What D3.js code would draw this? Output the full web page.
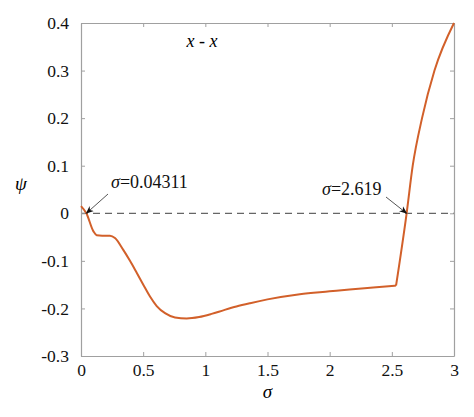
<!DOCTYPE html>
<html><head><meta charset="utf-8">
<script src="https://cdn.jsdelivr.net/npm/d3@7"></script>
<style>body{margin:0;background:#fff}svg{display:block}
text{font-family:"Liberation Serif","Tinos","DejaVu Serif",serif !important}</style>
</head><body>
<script>
const sigma = [0,0.043,0.1,0.126,0.17,0.233,0.273,0.34,0.394,0.448,0.501,0.555,0.609,0.676,0.756,0.85,0.95,1.05,1.15,1.25,1.36,1.5,1.76,2.0,2.16,2.35,2.534,2.619,2.668,2.743,2.843,3.0];
const psi   = [0.015,0,-0.038,-0.046,-0.047,-0.047,-0.052,-0.077,-0.1,-0.125,-0.15,-0.175,-0.195,-0.21,-0.219,-0.221,-0.218,-0.2115,-0.2035,-0.196,-0.189,-0.181,-0.170,-0.164,-0.160,-0.156,-0.152,0,0.1,0.2,0.3,0.4];
const xTicks = [0,0.5,1,1.5,2,2.5,3];
const xTickLabels = ["0","0.5","1","1.5","2","2.5","3"];
const yTicks = [-0.3,-0.2,-0.1,0,0.1,0.2,0.3,0.4];
const yTickLabels = ["-0.3","-0.2","-0.1","0","0.1","0.2","0.3","0.4"];
const annotations = [
  {text:"σ=0.04311", at:[0.043,0], tx:111, ty:188, from:[108,194]},
  {text:"σ=2.619", at:[2.619,0], tx:322, ty:195, from:[386,197]}
];

const W=474,H=417, L=81,R=454,T=23,B=356;
const svg=d3.select("body").append("svg").attr("width",W).attr("height",H);
const x=d3.scaleLinear().domain([0,3]).range([L,R]);
const y=d3.scaleLinear().domain([-0.3,0.4]).range([B,T]);
const font="Liberation Serif, Tinos, DejaVu Serif, serif";
const axisCol="#a0a0a0";

svg.append("defs").append("marker").attr("id","ah").attr("viewBox","0 0 10 10")
  .attr("refX",9).attr("refY",5).attr("markerWidth",8).attr("markerHeight",8).attr("orient","auto")
  .append("path").attr("d","M0,1 L10,5 L0,9 L3,5 Z").attr("fill","#111");

svg.append("line").attr("x1",x(0)).attr("x2",x(3)).attr("y1",y(0)).attr("y2",y(0))
  .attr("stroke","#666").attr("stroke-width",1.3).attr("stroke-dasharray","7,5");

function styleAxis(g){g.attr("font-family",font);
  g.selectAll("path").attr("stroke",axisCol).attr("stroke-width",1.2);
  g.selectAll("line").attr("stroke",axisCol);
  g.selectAll("text").attr("font-family",font).attr("font-size","17.5px").attr("fill","#111");}

const gBottom=svg.append("g").attr("transform",`translate(0,${B})`)
  .call(d3.axisBottom(x).tickValues(xTicks).tickFormat((d,i)=>xTickLabels[i]).tickSizeInner(-4).tickSizeOuter(0).tickPadding(10));
styleAxis(gBottom);
gBottom.selectAll("text").attr("dy","0.71em").attr("y",8);
const gTop=svg.append("g").attr("transform",`translate(0,${T})`)
  .call(d3.axisTop(x).tickValues(xTicks).tickFormat("").tickSizeInner(-4).tickSizeOuter(0));
styleAxis(gTop);
const gLeft=svg.append("g").attr("transform",`translate(${L},0)`)
  .call(d3.axisLeft(y).tickValues(yTicks).tickFormat((d,i)=>yTickLabels[i]).tickSizeInner(-4).tickSizeOuter(0).tickPadding(12));
styleAxis(gLeft);
const gRight=svg.append("g").attr("transform",`translate(${R},0)`)
  .call(d3.axisRight(y).tickValues(yTicks).tickFormat("").tickSizeInner(-4).tickSizeOuter(0));
styleAxis(gRight);

const pts=sigma.map((s,i)=>[s,psi[i]]);
const seg1=pts.filter(p=>p[0]<=2.534), seg2=pts.filter(p=>p[0]>=2.534);
const line=d3.line().x(d=>x(d[0])).y(d=>y(d[1])).curve(d3.curveMonotoneX);
svg.append("path").attr("d",line(seg1)).attr("fill","none").attr("stroke","#d2602a").attr("stroke-width",2);
svg.append("path").attr("d",line(seg2)).attr("fill","none").attr("stroke","#d2602a").attr("stroke-width",2);

annotations.forEach(a=>{
  svg.append("line").attr("x1",a.from[0]).attr("y1",a.from[1]).attr("x2",x(a.at[0])).attr("y2",y(a.at[1]))
    .attr("stroke","#555").attr("stroke-width",1).attr("marker-end","url(#ah)");
  const t=svg.append("text").attr("x",a.tx).attr("y",a.ty).attr("font-family",font).attr("font-size","18px").attr("fill","#111");
  t.append("tspan").attr("font-style","italic").text(a.text.slice(0,1));
  t.append("tspan").text(a.text.slice(1));
});

svg.append("text").attr("x",x(1.5)).attr("y",398).attr("text-anchor","middle").attr("font-family",font).attr("font-style","italic").attr("font-size","19px").text("σ");
svg.append("text").attr("x",21).attr("y",190).attr("text-anchor","middle").attr("font-family",font).attr("font-style","italic").attr("font-size","19px").text("ψ");
svg.append("text").attr("x",202).attr("y",47).attr("text-anchor","middle").attr("font-family",font).attr("font-style","italic").attr("font-size","18px").text("x - x");
</script>
</body></html>
